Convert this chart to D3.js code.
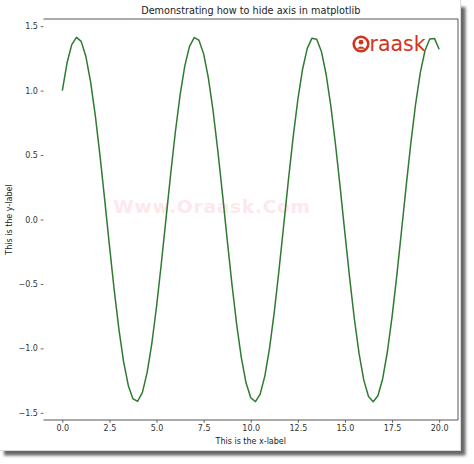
<!DOCTYPE html>
<html>
<head>
<meta charset="utf-8">
<script src="https://cdn.jsdelivr.net/npm/d3@7"></script>
<style>
  html, body { margin: 0; padding: 0; background: #fff; }
  svg { display: block; }
  text { font-family: "DejaVu Sans", sans-serif; }
</style>
</head>
<body>
<svg id="chart" width="474" height="464"></svg>
<script>
// ---- data ----
const xValues = [
  0, 0.25, 0.5, 0.75, 1, 1.25, 1.5, 1.75, 2, 2.25, 2.5, 2.75, 3, 3.25, 3.5, 3.75,
  4, 4.25, 4.5, 4.75, 5, 5.25, 5.5, 5.75, 6, 6.25, 6.5, 6.75, 7, 7.25, 7.5, 7.75,
  8, 8.25, 8.5, 8.75, 9, 9.25, 9.5, 9.75, 10, 10.25, 10.5, 10.75, 11, 11.25, 11.5, 11.75,
  12, 12.25, 12.5, 12.75, 13, 13.25, 13.5, 13.75, 14, 14.25, 14.5, 14.75, 15, 15.25, 15.5, 15.75,
  16, 16.25, 16.5, 16.75, 17, 17.25, 17.5, 17.75, 18, 18.25, 18.5, 18.75, 19, 19.25, 19.5, 19.75, 20
];
const yValues = [
  1.000, 1.216, 1.357, 1.413, 1.382, 1.264, 1.068, 0.806, 0.493, 0.150, -0.203, -0.543, -0.849, -1.102, -1.287, -1.392,
  -1.410, -1.341, -1.188, -0.962, -0.675, -0.347, 0.003, 0.353, 0.681, 0.966, 1.192, 1.343, 1.411, 1.391, 1.285, 1.098,
  0.844, 0.537, 0.197, -0.156, -0.499, -0.811, -1.072, -1.267, -1.383, -1.413, -1.355, -1.213, -0.996, -0.716, -0.392, -0.044,
  0.307, 0.639, 0.931, 1.166, 1.328, 1.407, 1.399, 1.304, 1.127, 0.881, 0.580, 0.243, -0.109, -0.455, -0.772, -1.041,
  -1.246, -1.373, -1.414, -1.368, -1.237, -1.028, -0.756, -0.437, -0.091, 0.261, 0.597, 0.896, 1.139, 1.311, 1.401, 1.405, 1.321
];
const xTicks = [0, 2.5, 5, 7.5, 10, 12.5, 15, 17.5, 20];
const yTicks = [-1.5, -1.0, -0.5, 0.0, 0.5, 1.0, 1.5];
const titleText = "Demonstrating how to hide axis in matplotlib";
const xLabelText = "This is the x-label";
const yLabelText = "This is the y-label";
const watermarkText = "Www.Oraask.Com";
const logoText = "raask";

// ---- layout ----
const svg = d3.select("#chart");
const plot = { left: 43.5, right: 458, top: 19, bottom: 420 };

// card with drop shadow
const defs = svg.append("defs");
const f = defs.append("filter").attr("id", "blur").attr("x", "-5%").attr("y", "-5%").attr("width", "110%").attr("height", "110%");
f.append("feGaussianBlur").attr("stdDeviation", 1.8);
svg.append("rect").attr("x", 4).attr("y", 7).attr("width", 461.5).attr("height", 448.5)
  .attr("fill", "#666").attr("filter", "url(#blur)");
svg.append("rect").attr("x", -5).attr("y", -5).attr("width", 465.5).attr("height", 455.5)
  .attr("fill", "#fff").attr("stroke", "#d8d8d8").attr("stroke-width", 1);

const x = d3.scaleLinear().domain([-1, 21]).range([plot.left, plot.right]);
const y = d3.scaleLinear().domain([-1.5556, 1.5556]).range([plot.bottom, plot.top]);

// watermark
svg.append("text")
  .attr("x", 212).attr("y", y(0.03) - 3)
  .attr("text-anchor", "middle")
  .attr("font-family", "'DejaVu Sans', sans-serif")
  .attr("font-weight", "bold")
  .attr("font-size", 18.5)
  .attr("letter-spacing", 0.8)
  .attr("fill", "#fde8ec")
  .text(watermarkText);

// line
const line = d3.line().x((d, i) => x(xValues[i])).y(d => y(d));
svg.append("path")
  .datum(yValues)
  .attr("d", line)
  .attr("fill", "none")
  .attr("stroke", "#2f7a30")
  .attr("stroke-width", 1.5)
  .attr("stroke-linejoin", "round");

// logo
const logoG = svg.append("g").attr("transform", "translate(361,44)");
logoG.append("circle").attr("cx", 0).attr("cy", 0).attr("r", 7.3)
  .attr("fill", "none").attr("stroke", "#cf3520").attr("stroke-width", 2.6);
logoG.append("circle").attr("cx", 0).attr("cy", -1.8).attr("r", 2.4).attr("fill", "#cf3520");
logoG.append("path").attr("d", "M-4.2,4.8 Q0,0.2 4.2,4.8 Z").attr("fill", "#cf3520");
logoG.append("text").attr("x", 8.5).attr("y", 6.8)
  .attr("font-family", "'DejaVu Sans', sans-serif")
  .attr("font-size", 20.5)
  .attr("fill", "#cf3520")
  .text(logoText);

// spines (left hidden)
const spine = svg.append("g").attr("stroke", "#444").attr("stroke-width", 0.9).attr("fill", "none");
spine.append("line").attr("x1", plot.left).attr("x2", plot.right).attr("y1", plot.top).attr("y2", plot.top);
spine.append("line").attr("x1", plot.right).attr("x2", plot.right).attr("y1", plot.top).attr("y2", plot.bottom);
spine.append("line").attr("x1", plot.left).attr("x2", plot.right).attr("y1", plot.bottom).attr("y2", plot.bottom);

// axes
const xAxis = d3.axisBottom(x).tickValues(xTicks).tickFormat(d3.format(".1f")).tickSize(2.8).tickPadding(2.6);
const gx = svg.append("g").attr("transform", `translate(0,${plot.bottom})`).call(xAxis);
gx.select(".domain").remove();
gx.selectAll("line").attr("stroke", "#444").attr("stroke-width", 0.8);
gx.selectAll("text").attr("font-size", 8).attr("fill", "#333").attr("font-family", "'DejaVu Sans', sans-serif");

const yAxis = d3.axisLeft(y).tickValues(yTicks).tickFormat(d => d3.format(".1f")(d).replace("-", "\u2212")).tickSize(2.8).tickPadding(2.8);
const gy = svg.append("g").attr("transform", `translate(${plot.left},0)`).call(yAxis);
gy.select(".domain").remove();
gy.selectAll("line").attr("stroke", "#444").attr("stroke-width", 0.8);
gy.selectAll("text").attr("font-size", 8).attr("fill", "#333").attr("font-family", "'DejaVu Sans', sans-serif");

// title & labels
svg.append("text").attr("x", (plot.left + plot.right) / 2).attr("y", 14.2)
  .attr("text-anchor", "middle").attr("font-size", 9.7).attr("fill", "#222")
  .text(titleText);
svg.append("text").attr("x", (plot.left + plot.right) / 2).attr("y", 443.8)
  .attr("text-anchor", "middle").attr("font-size", 8).attr("fill", "#222")
  .text(xLabelText);
svg.append("text").attr("transform", `translate(12.3,${(plot.top + plot.bottom) / 2}) rotate(-90)`)
  .attr("text-anchor", "middle").attr("font-size", 8).attr("fill", "#222")
  .text(yLabelText);
</script>
</body>
</html>
